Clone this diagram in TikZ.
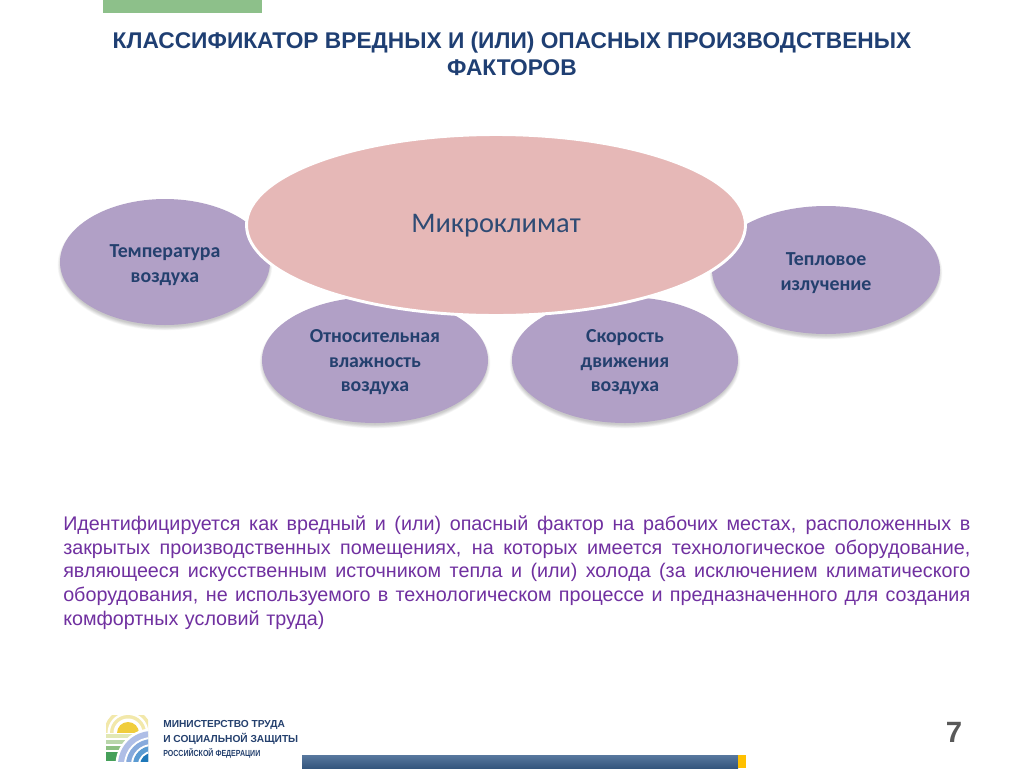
\documentclass[tikz,border=0pt]{standalone}
\usepackage{fontspec}
\setmainfont{Liberation Sans}
\newfontfamily\calib{Carlito}
\usetikzlibrary{shapes.geometric}
\definecolor{titleblue}{HTML}{1F3F73}
\definecolor{lilac}{HTML}{B1A0C6}
\definecolor{rosefill}{HTML}{E6B8B7}
\definecolor{bodyviolet}{HTML}{7030A0}
\definecolor{inkblue}{HTML}{24406E}
\definecolor{micblue}{HTML}{2F4B74}
\definecolor{topgreen}{RGB}{141,192,138}
\definecolor{barlight}{RGB}{88,120,158}
\definecolor{bardark}{RGB}{52,86,126}
\definecolor{baryellow}{RGB}{255,192,0}
\definecolor{pagegrey}{RGB}{89,89,89}
\definecolor{sunpale}{RGB}{242,232,170}
\definecolor{sunmid}{RGB}{240,205,60}
\definecolor{landz}{RGB}{226,232,180}
\definecolor{landa}{RGB}{185,214,170}
\definecolor{landb}{RGB}{140,192,130}
\definecolor{landc}{RGB}{70,160,90}
\definecolor{wavea}{RGB}{175,190,230}
\definecolor{waveb}{RGB}{135,170,220}
\definecolor{wavec}{RGB}{90,155,210}
\definecolor{waved}{RGB}{30,120,185}
\newcommand{\softshadow}[4]{%
  \foreach \g in {7,6,5,4,3,2,1,0}{%
    \fill[black,opacity=0.028] (#1,#2+3) ellipse [x radius=#3+\g*0.55-1.5, y radius=#4+\g*0.55-1.5];}}
\newcommand{\jline}[1]{\leavevmode\hbox to 680.25pt{\spaceskip=0.278em plus 1fil\relax #1}\\}
\tikzset{
  oval/.style={ellipse,fill=lilac,inner sep=0pt,outer sep=0pt,align=center,text=inkblue,
    font=\calib\bfseries\fontsize{14.9}{18.4}\selectfont},
  titletext/.style={text=titleblue,font=\bfseries\fontsize{17.05}{20.3}\selectfont,align=center,inner sep=0pt},
  mainoval/.style={ellipse,fill=rosefill,draw=white,line width=2.2pt,inner sep=0pt,outer sep=0pt,
    text=micblue,font=\calib\fontsize{21.3}{24}\selectfont},
  bodytext/.style={text=bodyviolet,inner sep=0pt,anchor=north west,text width=680.25pt,
    font=\fontsize{14.8}{17.75}\selectfont},
  logotext/.style={text=inkblue,anchor=west,inner sep=0pt,font=\bfseries\fontsize{7.64}{9}\selectfont},
}
\begin{document}
\begin{tikzpicture}[x=0.75pt,y=-0.75pt]
\useasboundingbox (0,0) rectangle (1024,768);
\fill[white] (0,0) rectangle (1024,768);
% bars
\fill[topgreen] (103,0) rectangle (262,13);
\shade[top color=barlight,bottom color=bardark] (302,755) rectangle (738,768);
\fill[baryellow] (738,755) rectangle (746,768);
% title
\node[titletext] (title) at (512,53.5) {КЛАССИФИКАТОР ВРЕДНЫХ И (ИЛИ) ОПАСНЫХ ПРОИЗВОДСТВЕНЫХ\\ФАКТОРОВ};
% side ovals
\softshadow{165}{262}{105}{63}
\softshadow{826}{270}{114}{64}
\softshadow{375}{360}{113}{63}
\softshadow{625}{360}{113}{63}
\node[oval,minimum width=210*0.75pt,minimum height=126*0.75pt] (temp) at (165,262) {};
\node[oval,minimum width=228*0.75pt,minimum height=128*0.75pt] (rad) at (826,270) {};
\node[oval,minimum width=226*0.75pt,minimum height=126*0.75pt] (hum) at (375,360) {};
\node[oval,minimum width=226*0.75pt,minimum height=126*0.75pt] (speed) at (625,360) {};
\node[mainoval,minimum width=499*0.75pt,minimum height=181*0.75pt] (micro) at (496,225) {};
\node[text=micblue,font=\calib\fontsize{21.3}{24}\selectfont,inner sep=0pt] (microlabel) at (496,226) {Микроклимат};
\node[oval,fill=none,minimum width=0pt,minimum height=0pt] (templabel) at (165,265) {Температура\\воздуха};
\node[oval,fill=none,minimum width=0pt,minimum height=0pt] (radlabel) at (826,273) {Тепловое\\излучение};
\node[oval,fill=none,minimum width=0pt,minimum height=0pt] (humlabel) at (375,362.5) {Относительная\\влажность\\воздуха};
\node[oval,fill=none,minimum width=0pt,minimum height=0pt] (speedlabel) at (625,362.5) {Скорость\\движения\\воздуха};
% body
\node[bodytext] (body) at (63,515.5) {\parindent=0pt
\jline{Идентифицируется как вредный и (или) опасный фактор на рабочих местах, расположенных в}
\jline{закрытых производственных помещениях, на которых имеется технологическое оборудование,}
\jline{являющееся искусственным источником тепла и (или) холода (за исключением климатического}
\jline{оборудования, не используемого в технологическом процессе и предназначенного для создания}
комфортных условий труда)};
% logo
\begin{scope}
\clip (106,715) rectangle (148,761);
\fill[sunpale] (128,733) circle (24);
\fill[white] (128,733) circle (20.5);
\fill[sunpale] (128,733) circle (18);
\fill[white] (128,733) circle (14.5);
\fill[sunmid] (128,733) circle (11);
\fill[white] (104,733) rectangle (150,762);
\fill[landz] (106,733.5) rectangle (150,737.5);
\fill[landa] (106,740) rectangle (150,744);
\fill[landb] (106,746) rectangle (150,750);
\fill[landc] (106,752) rectangle (150,761);
\fill[white] (152,765) circle (36.5);
\fill[wavea] (152,765) circle (34);
\fill[white] (152,765) circle (28);
\fill[waveb] (152,765) circle (26);
\fill[white] (152,765) circle (21);
\fill[wavec] (152,765) circle (19);
\fill[white] (152,765) circle (14);
\fill[waved] (152,765) circle (12);
\end{scope}
\node[logotext] (logo1) at (163,725) {МИНИСТЕРСТВО ТРУДА};
\node[logotext] (logo2) at (163,739) {И СОЦИАЛЬНОЙ ЗАЩИТЫ};
\node[logotext,font=\bfseries\fontsize{6.6}{8}\selectfont] (logo3) at (163,753) {\scalebox{0.8}[1]{РОССИЙСКОЙ ФЕДЕРАЦИИ}};
\node[text=pagegrey,font=\bfseries\fontsize{22}{24}\selectfont,inner sep=0pt] (pagenum) at (954,732) {7};
\end{tikzpicture}
\end{document}
